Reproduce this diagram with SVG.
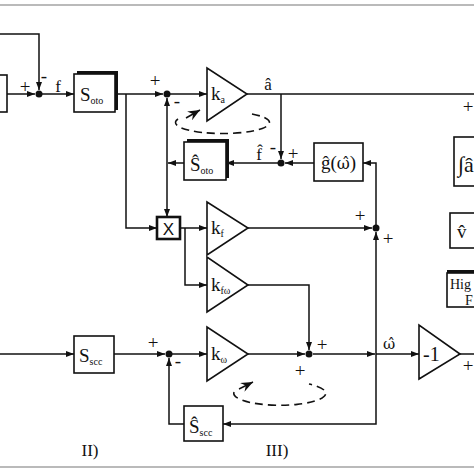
<svg xmlns="http://www.w3.org/2000/svg" width="474" height="474" viewBox="0 0 474 474">
<style>
text{font-family:"Liberation Serif","Times New Roman",serif;fill:#111}
.box{fill:#fff;stroke:#111;stroke-width:1.6}
.sh{fill:#111}
.tri{fill:#fff;stroke:#111;stroke-width:1.6;stroke-linejoin:miter}
.ln{fill:none;stroke:#111;stroke-width:1.5}
.dash{fill:none;stroke:#111;stroke-width:1.6;stroke-dasharray:8 5}
.dot{fill:#111}
.m{font-size:19px}
.sub{font-size:10px}
.sg{font-size:19px}
.lbl{font-size:17px}
.gr{font-family:"DejaVu Serif",serif}
.frame{stroke:#777;stroke-width:1.2}
</style>
<defs>
<marker id="ar" markerWidth="8" markerHeight="6" refX="8" refY="3" orient="auto" markerUnits="userSpaceOnUse">
<path d="M0,0 L8,3 L0,6 Z" fill="#111"/>
</marker>
<marker id="barb" markerWidth="14" markerHeight="10" refX="12" refY="5" orient="auto" markerUnits="userSpaceOnUse">
<path d="M0,0 L12,5 L0,10 L4,5 Z" fill="#111"/>
</marker>
</defs>
<rect width="474" height="474" fill="#fff"/>
<line class="frame" x1="0" y1="5" x2="474" y2="5"/>
<line class="frame" x1="0" y1="467" x2="474" y2="467"/>

<g id="connectors">
<path class="ln" d="M0,34 H39 V90" marker-end="url(#ar)"/>
<path class="ln" d="M7,94 H35" marker-end="url(#ar)"/>
<path class="ln" d="M39,94 H74" marker-end="url(#ar)"/>
<path class="ln" d="M115,94 H163" marker-end="url(#ar)"/>
<path class="ln" d="M126,94 V228 H157" marker-end="url(#ar)"/>
<path class="ln" d="M167,94 H207" marker-end="url(#ar)"/>
<path class="ln" d="M247,94 H474"/>
<path class="ln" d="M281,94 V159" marker-end="url(#ar)"/>
<path class="ln" d="M314,163 H285" marker-end="url(#ar)"/>
<path class="ln" d="M281,163 H226" marker-end="url(#ar)"/>
<path class="ln" d="M184,163 H168" marker-end="url(#ar)"/>
<path class="ln" d="M167,163 V98" marker-end="url(#ar)"/>
<path class="ln" d="M167,163 V217" marker-end="url(#ar)"/>
<path class="ln" d="M180,228 H207" marker-end="url(#ar)"/>
<path class="ln" d="M185,228 V285 H207" marker-end="url(#ar)"/>
<path class="ln" d="M248,228 H372" marker-end="url(#ar)"/>
<path class="ln" d="M248,285 H309 V350" marker-end="url(#ar)"/>
<path class="ln" d="M376,228 V163 H363" marker-end="url(#ar)"/>
<path class="ln" d="M313,354 H375" marker-end="url(#ar)"/>
<path class="ln" d="M376,354 V232" marker-end="url(#ar)"/>
<path class="ln" d="M376,354 V424 H223" marker-end="url(#ar)"/>
<path class="ln" d="M376,354 H419" marker-end="url(#ar)"/>
<path class="ln" d="M460,354 H474"/>
<path class="ln" d="M0,354 H74" marker-end="url(#ar)"/>
<path class="ln" d="M114,354 H165" marker-end="url(#ar)"/>
<path class="ln" d="M169,354 H207" marker-end="url(#ar)"/>
<path class="ln" d="M248,354 H305" marker-end="url(#ar)"/>
<path class="ln" d="M184,424 H169 V358" marker-end="url(#ar)"/>
<path class="dash" d="M178,119 A47,11 0 1 0 252,114"/>
<path class="ln" d="M186,118 L200,110" marker-end="url(#barb)"/>
<path class="dash" d="M234,392 A46,12 0 1 0 309,384"/>
<path class="ln" d="M239,389 L253,382" marker-end="url(#barb)"/>
</g>

<g id="sum1"><circle class="dot" cx="39" cy="94" r="3.5"/>
<text class="sg" x="25" y="93" text-anchor="middle">+</text>
<text class="sg" x="44" y="82" text-anchor="middle">-</text>
<text class="lbl" x="58" y="92" text-anchor="middle">f</text></g>
<g id="sum2"><circle class="dot" cx="167" cy="94" r="3.5"/>
<text class="sg" x="155" y="87" text-anchor="middle">+</text>
<text class="sg" x="177" y="107" text-anchor="middle">-</text></g>
<g id="sum3"><circle class="dot" cx="281" cy="163" r="3.5"/>
<text class="lbl" x="259" y="160" text-anchor="middle">f̂</text>
<text class="sg" x="273" y="153" text-anchor="middle">-</text>
<text class="sg" x="293" y="160" text-anchor="middle">+</text></g>
<g id="sum4"><circle class="dot" cx="376" cy="228" r="3.5"/>
<text class="sg" x="360" y="222" text-anchor="middle">+</text>
<text class="sg" x="388" y="245" text-anchor="middle">+</text></g>
<g id="sum5"><circle class="dot" cx="309" cy="354" r="3.5"/>
<text class="sg" x="322" y="351" text-anchor="middle">+</text>
<text class="sg" x="300" y="377" text-anchor="middle">+</text></g>
<g id="sum6"><circle class="dot" cx="169" cy="354" r="3.5"/>
<text class="sg" x="153" y="349" text-anchor="middle">+</text>
<text class="sg" x="178" y="367" text-anchor="middle">-</text></g>

<g id="left-block"><rect class="box" x="-5" y="75" width="12" height="37"/></g>

<g id="S_oto"><rect class="sh" x="77" y="71" width="41" height="39"/>
<rect class="box" x="74" y="74" width="41" height="38"/>
<text x="80" y="101"><tspan class="m">S</tspan><tspan class="sub" dy="3">oto</tspan></text></g>

<g id="k_a"><path class="tri" d="M207,68 L207,121 L247,94 Z"/>
<text x="211" y="100"><tspan class="m">k</tspan><tspan class="sub" dy="3">a</tspan></text></g>
<text class="lbl" x="268" y="90" text-anchor="middle">â</text>

<g id="Shat_oto"><rect class="sh" x="187" y="139" width="42" height="39"/>
<rect class="box" x="184" y="142" width="42" height="38"/>
<text x="190" y="171"><tspan class="m">Ŝ</tspan><tspan class="sub" dy="3">oto</tspan></text></g>

<g id="g_omega"><rect class="box" x="314" y="143" width="49" height="38"/>
<text class="m" x="338.5" y="169" text-anchor="middle">ĝ(<tspan class="gr" style="font-size:16px">ω̂</tspan>)</text></g>

<g id="X"><rect class="box" x="157" y="217" width="23" height="22" style="stroke-width:2.6"/>
<text x="168.5" y="235" text-anchor="middle" style="font-family:'Liberation Sans',Arial,sans-serif;font-size:17px">X</text></g>

<g id="k_f"><path class="tri" d="M207,202 L207,255 L248,228 Z"/>
<text x="211" y="234"><tspan class="m">k</tspan><tspan class="sub" dy="3">f</tspan></text></g>
<g id="k_fw"><path class="tri" d="M207,257 L207,312 L248,285 Z"/>
<text x="211" y="291"><tspan class="m">k</tspan><tspan class="sub" dy="3">fω</tspan></text></g>
<g id="k_w"><path class="tri" d="M207,327 L207,381 L248,354 Z"/>
<text x="211" y="360"><tspan class="m">k</tspan><tspan class="sub" dy="3">ω</tspan></text></g>

<g id="S_scc"><rect class="box" x="74" y="336" width="40" height="37"/>
<text x="79" y="362"><tspan class="m">S</tspan><tspan class="sub" dy="3">scc</tspan></text></g>
<g id="Shat_scc"><rect class="box" x="184" y="406" width="39" height="35"/>
<text x="189" y="433"><tspan class="m">Ŝ</tspan><tspan class="sub" dy="3">scc</tspan></text></g>

<g id="neg1"><path class="tri" d="M419,325 L419,379 L460,354 Z"/>
<text x="423" y="361" style="font-size:20px">-1</text></g>
<text class="gr" x="389" y="349" text-anchor="middle" style="font-size:15px">ω̂</text>
<text class="sg" x="468" y="372" text-anchor="middle">+</text>
<text class="sg" x="468" y="113" text-anchor="middle">+</text>

<g id="integral"><rect class="box" x="454" y="137" width="30" height="49"/>
<text x="458" y="172" style="font-size:22px">∫â</text></g>
<g id="vhat"><rect class="box" x="450" y="213" width="34" height="35"/>
<text class="m" x="457" y="238">v̂</text></g>
<g id="hpf"><rect class="sh" x="447" y="270" width="40" height="6"/>
<rect class="box" x="447" y="273" width="40" height="34"/>
<text x="450" y="289" style="font-size:14px">Hig</text>
<text x="465" y="305" style="font-size:14px">F</text></g>

<text class="lbl" x="90" y="456" text-anchor="middle">II)</text>
<text class="lbl" x="277" y="456" text-anchor="middle">III)</text>
</svg>
